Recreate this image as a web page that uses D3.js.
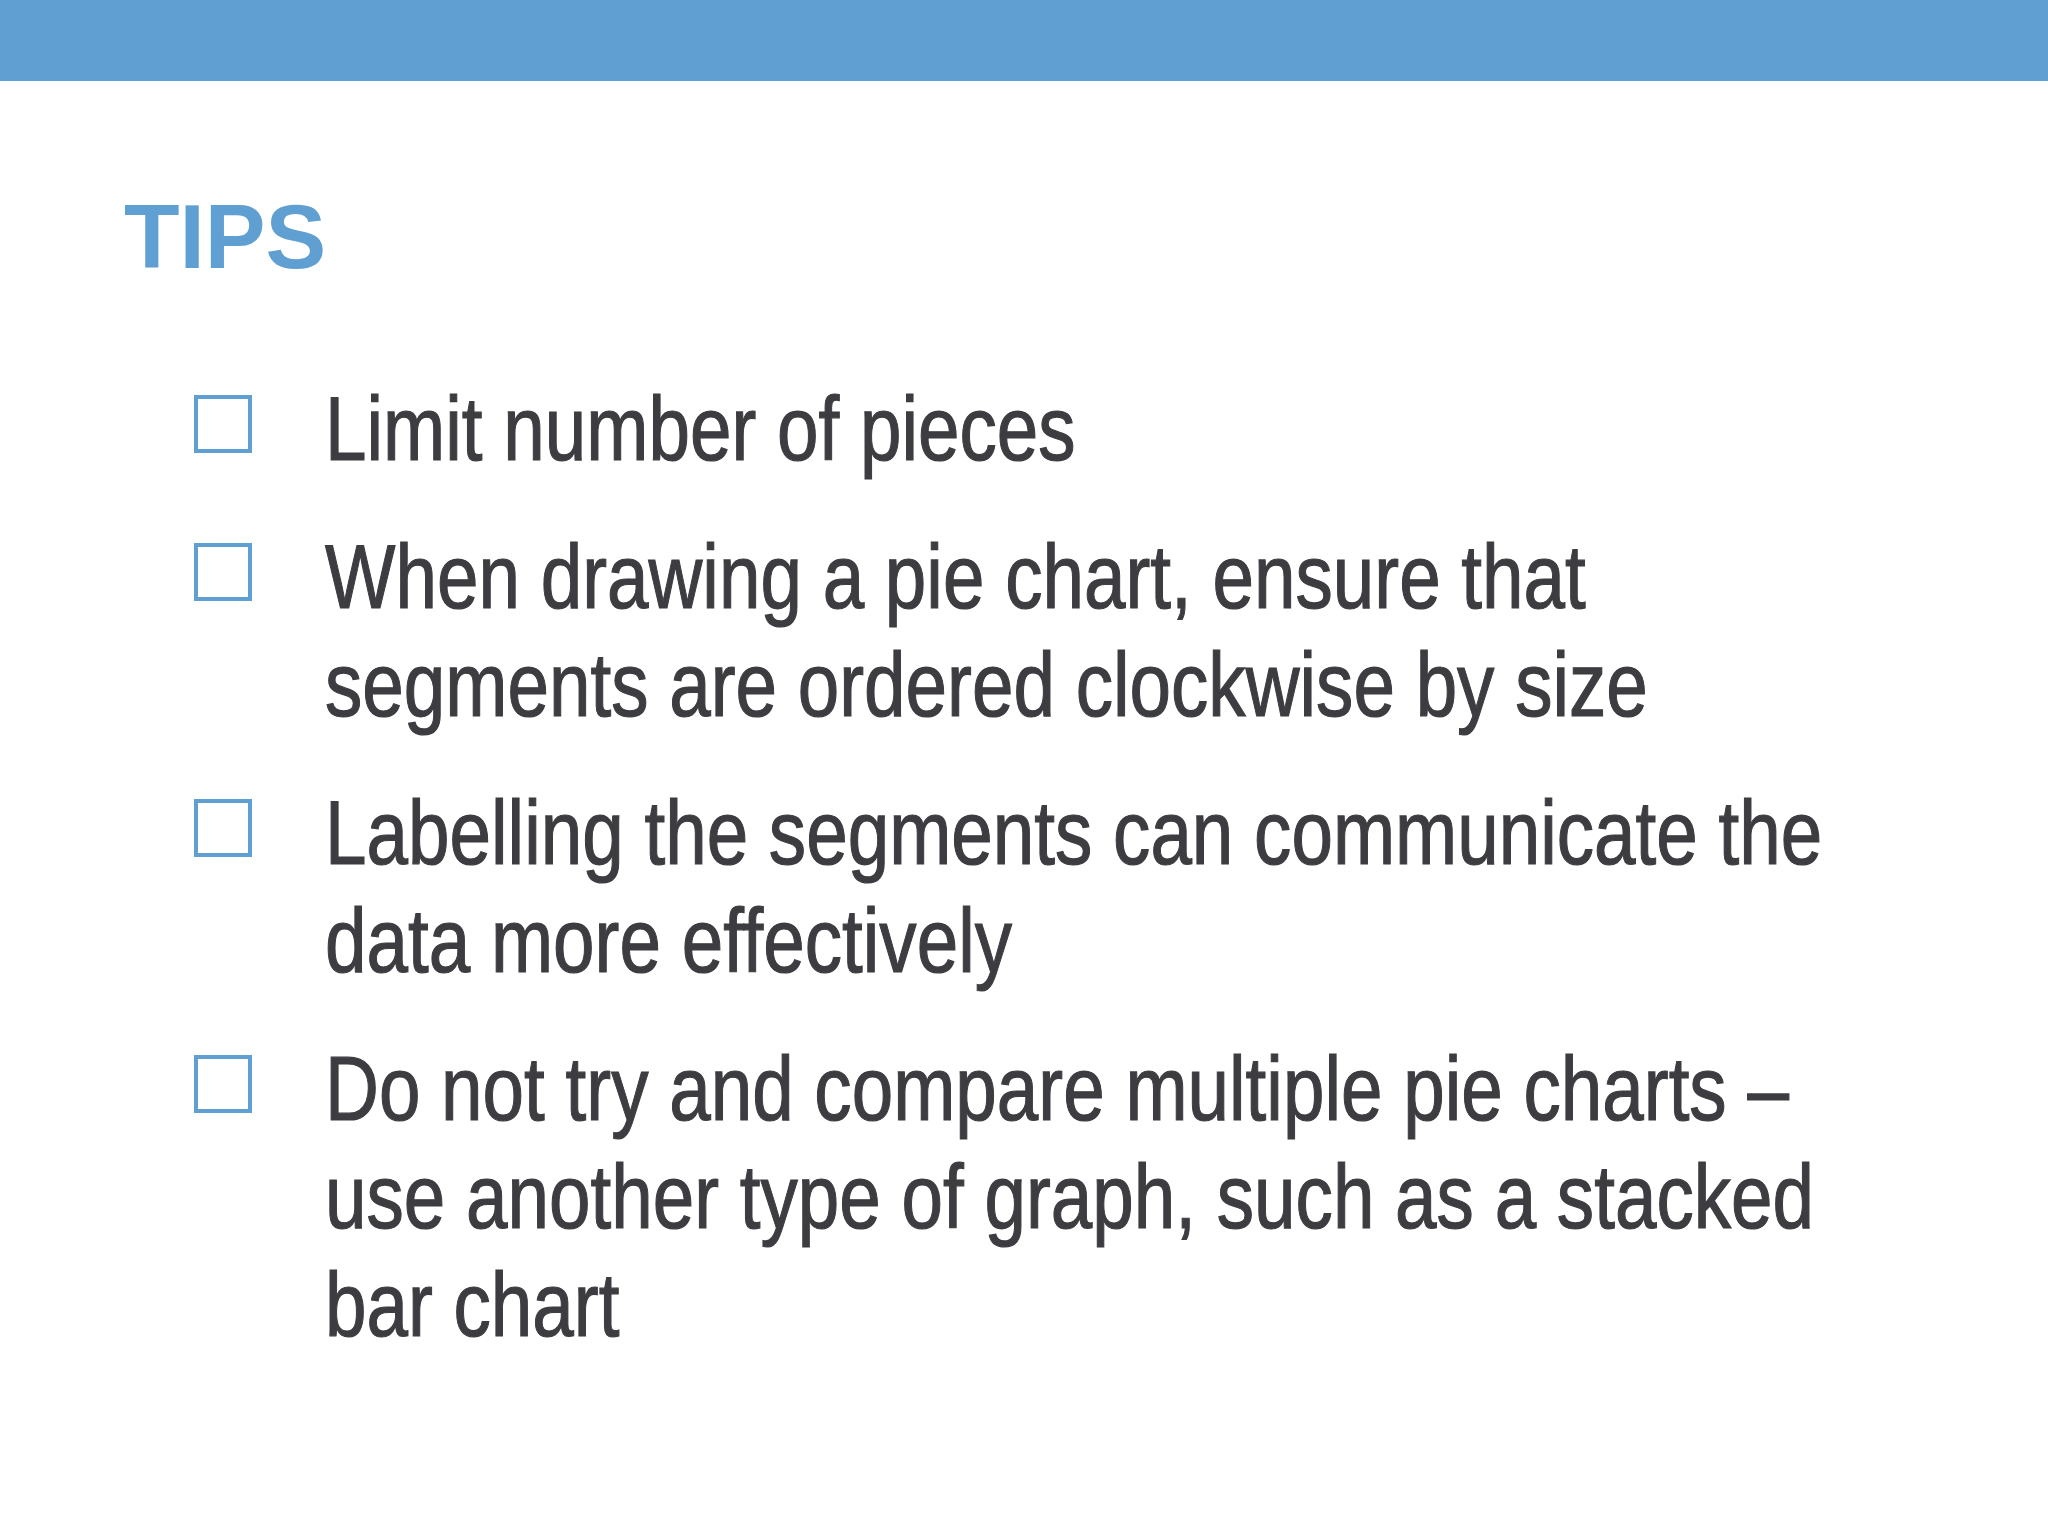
<!DOCTYPE html>
<html>
<head>
<meta charset="utf-8">
<script src="https://cdn.jsdelivr.net/npm/d3@7"></script>
<style>
  html, body { margin: 0; padding: 0; background: #fff; }
</style>
</head>
<body>
<div id="slide"></div>
<script>
const title = 'TIPS';
const tips = [
  ['Limit number of pieces'],
  ['When drawing a pie chart, ensure that', 'segments are ordered clockwise by size'],
  ['Labelling the segments can communicate the', 'data more effectively'],
  ['Do not try and compare multiple pie charts \u2013', 'use another type of graph, such as a stacked', 'bar chart']
];

const width = 2048;
const height = 1536;
const blue = '#609fd2';
const textColor = '#3d3c40';

// flatten lines, keep track of which tip they belong to
const lines = [];
tips.forEach((tip, i) => tip.forEach((t, j) => lines.push({ tip: i, line: j, text: t })));

// each line is one step, each new tip adds a bit more gap
const lineStep = 108;
const tipGap = 40;
const yScale = d3.scaleLinear().domain([0, 1]).range([460, 460 + lineStep]);
const lineY = d => yScale(lines.indexOf(d)) + d.tip * tipGap;

// no narrow font installed, so squeeze the regular one
const narrow = 0.82;

const svg = d3.select('#slide').append('svg').attr('width', width).attr('height', height);

svg.append('rect').attr('x', 0).attr('y', 0).attr('width', width).attr('height', 81).attr('fill', blue);

svg.append('text')
  .attr('x', 124)
  .attr('y', 268)
  .attr('font-family', '"Liberation Sans", Arial, sans-serif')
  .attr('font-weight', 'bold')
  .attr('font-size', 91)
  .attr('fill', blue)
  .text(title);

const firstLines = lines.filter(d => d.line === 0);
svg.selectAll('.box').data(firstLines).enter().append('rect')
  .attr('class', 'box')
  .attr('x', 196)
  .attr('y', d => lineY(d) - 63)
  .attr('width', 54)
  .attr('height', 54)
  .attr('fill', 'none')
  .attr('stroke', blue)
  .attr('stroke-width', 4);

const body = svg.append('g').attr('transform', `translate(325,0) scale(${narrow},1)`);

body.selectAll('.tip').data(lines).enter().append('text')
  .attr('class', 'tip')
  .attr('x', 0)
  .attr('y', lineY)
  .attr('font-family', '"Liberation Sans Narrow", "Arial Narrow", "Liberation Sans", sans-serif')
  .attr('font-size', 91)
  .attr('fill', textColor)
  .attr('stroke', textColor)
  .attr('stroke-width', 1.2)
  .text(d => d.text);
</script>
</body>
</html>
